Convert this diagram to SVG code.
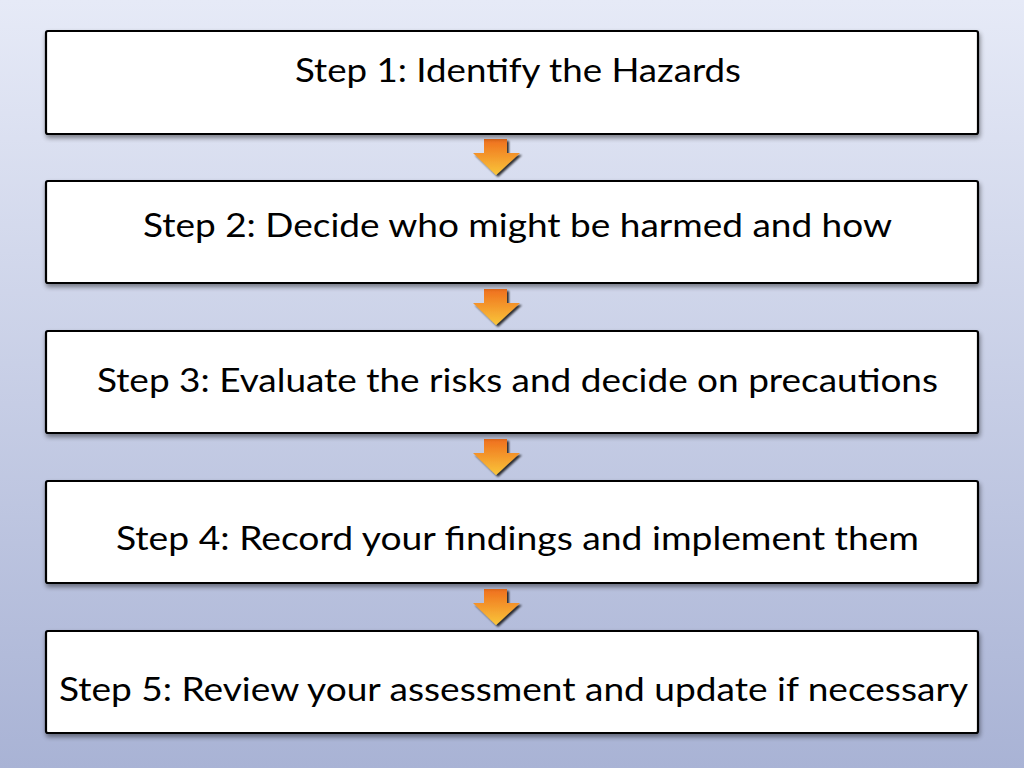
<svg xmlns="http://www.w3.org/2000/svg" width="1024" height="768" viewBox="0 0 1024 768">
  <defs>
    <linearGradient id="bg" x1="0" y1="0" x2="0" y2="1">
      <stop offset="0" stop-color="#e6eaf7"/>
      <stop offset="1" stop-color="#a9b3d5"/>
    </linearGradient>
    <linearGradient id="arrowGrad" x1="0" y1="0" x2="0" y2="1">
      <stop offset="0" stop-color="#ef6f1e"/>
      <stop offset="1" stop-color="#f9c63a"/>
    </linearGradient>
    <filter id="shadow" x="-5%" y="-20%" width="110%" height="150%">
      <feGaussianBlur in="SourceAlpha" stdDeviation="2.5"/>
      <feOffset dx="1" dy="3" result="b"/>
      <feComponentTransfer><feFuncA type="linear" slope="0.45"/></feComponentTransfer>
      <feMerge><feMergeNode/><feMergeNode in="SourceGraphic"/></feMerge>
    </filter>
    <filter id="ashadow" x="-30%" y="-30%" width="160%" height="160%">
      <feGaussianBlur in="SourceAlpha" stdDeviation="0.8"/>
      <feOffset dx="1.5" dy="1.5" result="b"/>
      <feComponentTransfer><feFuncA type="linear" slope="0.8"/></feComponentTransfer>
      <feMerge><feMergeNode/><feMergeNode in="SourceGraphic"/></feMerge>
    </filter>
    <path id="arrowShape" d="M484,0 H507 V14 H520 L496,36 L473,14 H484 Z"/>
  </defs>
  <style>
    .box { fill: #ffffff; stroke: #000000; stroke-width: 2.2; filter: url(#shadow); }
    .label { font-family: Lato, "Open Sans", "Liberation Sans", sans-serif; font-size: 33px; fill: #000000; }
    .arrow { fill: url(#arrowGrad); filter: url(#ashadow); }
  </style>
  <rect x="0" y="0" width="1024" height="768" fill="url(#bg)"/>

  <g id="connectors">
    <use href="#arrowShape" class="arrow" transform="translate(0,139)"/>
    <use href="#arrowShape" class="arrow" transform="translate(0,289)"/>
    <use href="#arrowShape" class="arrow" transform="translate(0,439)"/>
    <use href="#arrowShape" class="arrow" transform="translate(0,589)"/>
  </g>

  <g id="step1">
    <rect class="box" x="46" y="31" width="932" height="103" rx="2"/>
    <text class="label" x="295" y="82" textLength="446" lengthAdjust="spacingAndGlyphs">Step 1: Identify the Hazards</text>
  </g>
  <g id="step2">
    <rect class="box" x="46" y="181" width="932" height="102" rx="2"/>
    <text class="label" x="143" y="237" textLength="749" lengthAdjust="spacingAndGlyphs">Step 2: Decide who might be harmed and how</text>
  </g>
  <g id="step3">
    <rect class="box" x="46" y="331" width="932" height="102" rx="2"/>
    <text class="label" x="97" y="392" textLength="841" lengthAdjust="spacingAndGlyphs">Step 3: Evaluate the risks and decide on precautions</text>
  </g>
  <g id="step4">
    <rect class="box" x="46" y="481" width="932" height="102" rx="2"/>
    <text class="label" x="116" y="550" textLength="803" lengthAdjust="spacingAndGlyphs">Step 4: Record your findings and implement them</text>
  </g>
  <g id="step5">
    <rect class="box" x="46" y="631" width="932" height="102" rx="2"/>
    <text class="label" x="59" y="701" textLength="909" lengthAdjust="spacingAndGlyphs">Step 5: Review your assessment and update if necessary</text>
  </g>
</svg>
